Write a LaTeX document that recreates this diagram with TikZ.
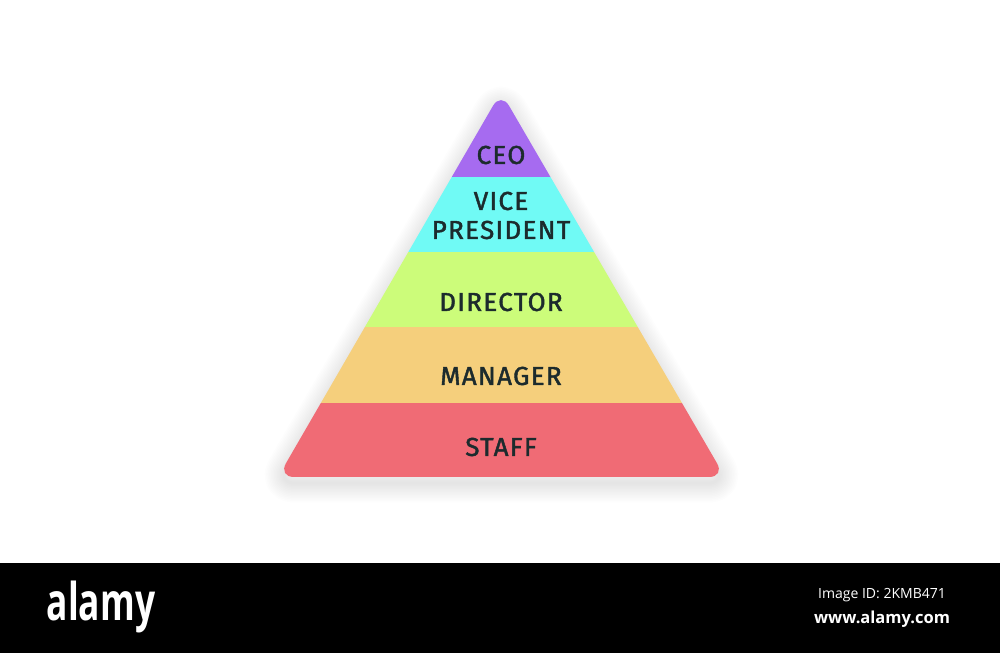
\documentclass[tikz,border=0pt]{standalone}
\usepackage{fontspec}
\setmainfont{Fira Sans}
\newfontfamily\tierfont{Fira Sans}[FakeBold=1.6,LetterSpace=5]
\newfontfamily\barfont{Open Sans}

\tikzset{
  tierlabel/.style={text=labelColor,anchor=center,inner sep=0pt,outer sep=0pt,
    font=\fontsize{26}{30}\selectfont\tierfont},
  barlabel/.style={text=white,anchor=center,inner sep=0pt,outer sep=0pt},
  pyramid/.style={rounded corners=16pt}
}

\begin{document}
\begin{tikzpicture}[x=1pt,y=1pt]
\definecolor{ceoColor}{RGB}{166,107,240}
\definecolor{vpColor}{RGB}{112,250,245}
\definecolor{directorColor}{RGB}{204,252,122}
\definecolor{managerColor}{RGB}{245,207,124}
\definecolor{staffColor}{RGB}{240,107,117}
\definecolor{labelColor}{RGB}{28,43,45}
\path[use as bounding box,fill=white] (0,0) rectangle (1000,653);

% soft shadow
\foreach \w in {3,6,...,39}
  \path[pyramid,line join=round,draw=black,draw opacity=0.008,line width=\w pt]
    (501,555) -- (725,170) -- (278,170) -- cycle;

\begin{scope}
\path[clip,pyramid] (501,561) -- (725,176) -- (278,176) -- cycle;
\path[fill=ceoColor] (270,476) rectangle (730,570);
\path[fill=vpColor] (270,401) rectangle (730,476);
\path[fill=directorColor] (270,326) rectangle (730,401);
\path[fill=managerColor] (270,250) rectangle (730,326);
\path[fill=staffColor] (270,170) rectangle (730,250);
\end{scope}

\node[tierlabel] (ceo) at (501,498) {CEO};
\node[tierlabel,align=center] (vp) at (501,437.5) {VICE\\[-1pt]PRESIDENT};
\node[tierlabel] (director) at (501,351) {DIRECTOR};
\node[tierlabel] (manager) at (501,277) {MANAGER};
\node[tierlabel] (staff) at (501,206) {STAFF};

% bottom bar
\path[fill=black] (0,0) rectangle (1000,90);
\node[barlabel,font=\fontsize{52}{56}\selectfont\barfont\bfseries,xscale=0.68,anchor=base] (logo) at (101,33) {alamy};
\node[barlabel,font=\fontsize{14}{16}\selectfont\barfont] (imageid) at (882,58) {Image ID: 2KMB471};
\node[barlabel,font=\fontsize{16.5}{18}\selectfont\barfont\bfseries] (site) at (882,34) {www.alamy.com};
\end{tikzpicture}
\end{document}
